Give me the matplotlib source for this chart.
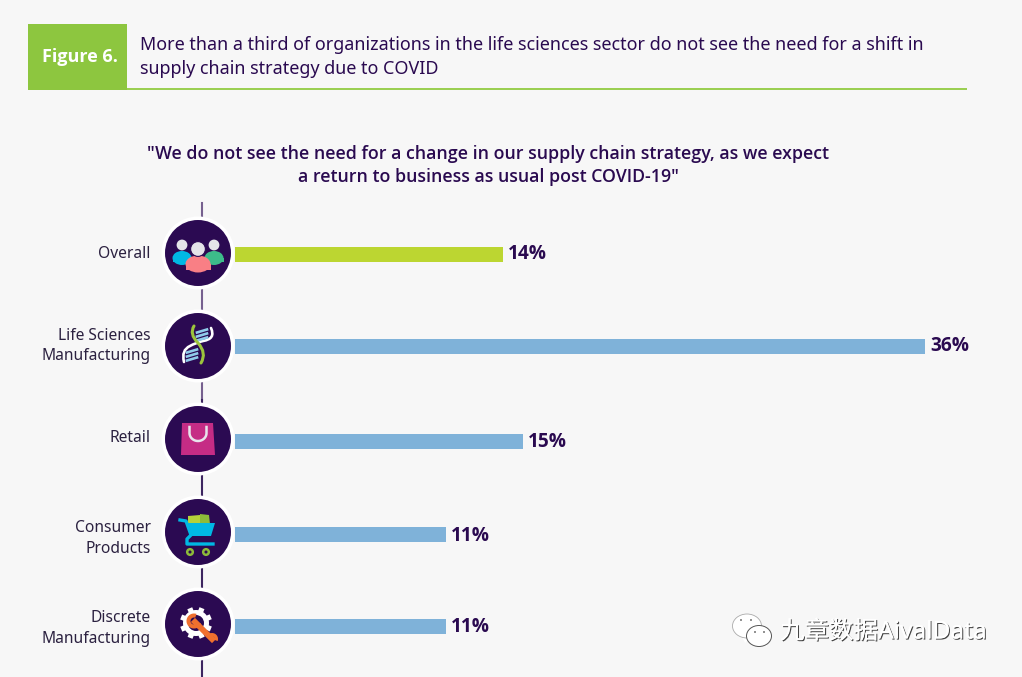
import matplotlib
matplotlib.use("Agg")
import matplotlib.pyplot as plt
import matplotlib.patheffects as pe
from matplotlib.path import Path
from matplotlib.patches import Rectangle, Circle, Ellipse, Polygon, Wedge, PathPatch
import numpy as np

plt.rcParams['font.family'] = ['Noto Sans', 'Noto Sans CJK SC', 'DejaVu Sans']

categories = ["Overall", "Life Sciences\nManufacturing", "Retail",
              "Consumer\nProducts", "Discrete\nManufacturing"]
values = [14, 36, 15, 11, 11]
bar_colors = ["#BCD631", "#7FB2D9", "#7FB2D9", "#7FB2D9", "#7FB2D9"]

figure_tag = "Figure 6."
headline = ("More than a third of organizations in the life sciences sector do not see the need for a shift in\n"
            "supply chain strategy due to COVID")
quote_lines = ['"We do not see the need for a change in our supply chain strategy, as we expect',
               'a return to business as usual post COVID-19"']
watermark = "九章数据AivalData"

BG = "#F7F7F7"
INK = "#2A0A50"
GREEN = "#8DC63F"
DISC = "#2B0A52"
W, H = 1022, 677
PX = 72 / 100  # points per pixel at dpi 100

row_y = [253, 346, 439, 532, 624]
name_y = [254, 346, 438, 538.5, 628.5]
value_y = [254, 346, 442, 536, 627]
bar_y = [254, 346, 441, 534, 626]
quote_y = [154, 177]
bar_left = 235
px_per_unit = 19.17

fig = plt.figure(figsize=(W / 100, H / 100), dpi=100, facecolor=BG)

# page furniture and icons are laid out in pixels
ax = fig.add_axes([0, 0, 1, 1], zorder=1)
ax.set_xlim(0, W)
ax.set_ylim(H, 0)
ax.axis("off")

# bars sit on their own axes, x in percent
bx = fig.add_axes([bar_left / W, 0, (W - bar_left) / W, 1], zorder=3)
bx.set_xlim(0, (W - bar_left) / px_per_unit)
bx.set_ylim(H, 0)
bx.axis("off")
bx.barh(bar_y, values, height=15, color=bar_colors, linewidth=0)
for v, y in zip(values, value_y):
    bx.annotate(f"{v}%", (v, y), xytext=(5 * PX, 0), textcoords="offset points",
                va="center", ha="left", fontsize=19 * PX, family="Open Sans",
                fontweight="bold", color=INK)

# header band
ax.add_patch(Rectangle((28, 24), 99, 66, color=GREEN, lw=0))
ax.add_patch(Rectangle((127, 87.5), 840, 2.5, color="#9BCF53", lw=0))
ax.text(79.5, 57, figure_tag, ha="center", va="center", color="white",
        fontsize=18 * PX, family="Open Sans", fontweight="bold")
ax.text(140, 57, headline, ha="left", va="center", color=INK, fontsize=18 * PX, linespacing=1.36)
for line, y in zip(quote_lines, quote_y):
    ax.text(488, y, line, ha="center", va="center", color=INK, fontsize=17.8 * PX,
            family="Open Sans", fontweight="semibold")

# spine behind the icon discs
ax.plot([202, 202], [203, 400], color="#76608F", lw=1.5, zorder=1)
ax.plot([202, 202], [400, 677], color="#3D2560", lw=1.5, zorder=1)

for name, y in zip(categories, name_y):
    ax.text(150.5, y, name, ha="right", va="center", color="#2B2140", fontsize=15.6 * PX, linespacing=1.34)

for y in row_y:
    ax.add_patch(Circle((198, y), 36.5, color="white", lw=0, zorder=2))
    ax.add_patch(Circle((198, y), 33, color=DISC, lw=0, zorder=3))


def curve(points, color, lw, z):
    # smooth line through a few control points
    pts = np.array(points, dtype=float)
    codes = [Path.MOVETO] + [Path.CURVE3] * (len(pts) - 1)
    ax.add_patch(PathPatch(Path(pts, codes), fc="none", ec=color, lw=lw, zorder=z, capstyle="round"))


def icon_people(cx, cy):
    # two people at the back, one in front
    for dx, col in [(-16, "#00B8E4"), (16, "#3DBB8A")]:
        ax.add_patch(Ellipse((cx + dx, cy + 5), 19, 14, color=col, lw=0, zorder=4))
        ax.add_patch(Rectangle((cx + dx - 9.5, cy + 5), 19, 4, color=col, lw=0, zorder=4))
        ax.add_patch(Circle((cx + dx, cy - 8), 5.4, color="#E4E4E8", lw=0, zorder=5))
    ax.add_patch(Ellipse((cx, cy + 11), 25, 17, color="#F97F85", lw=0, zorder=6))
    ax.add_patch(Rectangle((cx - 12.5, cy + 11), 25, 6, color="#F97F85", lw=0, zorder=6))
    ax.add_patch(Circle((cx, cy - 4), 7.4, color="#E4E4E8", ec=DISC, lw=0.8, zorder=7))


def icon_dna(cx, cy):
    curve([(cx + 13, cy - 18), (cx + 18, cy - 7), (cx + 5, cy - 5), (cx - 3, cy - 3), (cx - 8, cy),
           (cx - 17, cy + 4), (cx - 14, cy + 16)], "white", 1.9, 5)
    curve([(cx - 4, cy - 20), (cx - 9, cy - 12), (cx, cy - 3), (cx + 9, cy + 7), (cx + 3, cy + 17)],
          "#9CC43C", 2.2, 6)
    for dx, dy in [(4, -15), (4, -11), (4, -7), (-6, 5), (-6, 9), (-6, 13)]:
        ax.plot([cx + dx - 5, cx + dx + 5], [cy + dy + 1.5, cy + dy - 1.5],
                color="#8FCBEA", lw=1.9, zorder=5)


def icon_bag(cx, cy):
    ax.add_patch(Polygon([(cx - 16, cy - 16), (cx + 15, cy - 16), (cx + 17, cy + 16), (cx - 17, cy + 16)],
                         closed=True, color="#C52C85", lw=0, zorder=5))
    t = np.linspace(0, np.pi, 30)
    xs = np.r_[cx - 8.5, cx - 8.5 * np.cos(t), cx + 8.5]
    ys = np.r_[cy - 12, cy - 6 + 8 * np.sin(t), cy - 12]
    ax.plot(xs, ys, color="#E8E4EC", lw=1.8, zorder=6)


def icon_cart(cx, cy):
    ax.add_patch(Polygon([(cx - 10, cy - 16), (cx + 2, cy - 17), (cx + 2, cy - 8), (cx - 10, cy - 8)],
                         closed=True, color="#B6D13A", lw=0, zorder=4))
    ax.add_patch(Polygon([(cx + 2, cy - 18), (cx + 11, cy - 17), (cx + 12, cy - 8), (cx + 2, cy - 8)],
                         closed=True, color="#8DBB3A", lw=0, zorder=4))
    ax.add_patch(Polygon([(cx - 10, cy - 9), (cx + 17, cy - 9), (cx + 13, cy + 4), (cx - 6, cy + 4)],
                         closed=True, color="#00B8E4", lw=0, zorder=5))
    ax.plot([cx - 18, cx - 12, cx - 7, cx - 11, cx - 11, cx + 15],
            [cy - 12, cy - 11, cy + 3, cy + 7, cy + 12, cy + 12],
            color="#00B8E4", lw=2.4, zorder=5)
    for dx in (-8, 8):
        ax.add_patch(Circle((cx + dx, cy + 20), 2.8, fc="none", ec="#8DBB3A", lw=1.8, zorder=6))


def icon_tools(cx, cy):
    gx, gy = cx - 2, cy
    for a in np.arange(0, 360, 45):
        r = np.radians(a + 22)
        ax.plot([gx + 11 * np.cos(r), gx + 16 * np.cos(r)],
                [gy + 11 * np.sin(r), gy + 16 * np.sin(r)],
                color="white", lw=3.8, zorder=4, solid_capstyle="butt")
    ax.add_patch(Circle((gx, gy), 13, color="white", lw=0, zorder=4))
    ax.add_patch(Circle((gx, gy), 8, color=DISC, lw=0, zorder=5))
    ax.plot([gx - 1, gx + 16], [gy - 1, gy + 16], color="#F0702E", lw=4.2, zorder=6)
    ax.add_patch(Wedge((gx - 2, gy - 2), 7.5, 20, 290, width=4, color="#F0702E", lw=0, zorder=6))
    ax.add_patch(Wedge((gx + 16, gy + 16), 6, 200, 20, width=3.4, color="#F0702E", lw=0, zorder=6))


icon_people(198, row_y[0])
icon_dna(198, row_y[1])
icon_bag(198, row_y[2])
icon_cart(198, row_y[3])
icon_tools(198, row_y[4] - 1)

# chat badge and account name in the corner
ax.add_patch(Polygon([(741, 634), (745, 643), (751, 637)], fc="white", lw=0, zorder=8))
ax.add_patch(Ellipse((747, 626), 29, 24, fc="white", ec="#AAAAAA", lw=0.6, zorder=8))
ax.add_patch(Polygon([(762, 644), (767, 647), (766, 642)], fc="white", lw=0, zorder=9))
ax.add_patch(Ellipse((759, 636), 25, 21, fc="white", ec="#555555", lw=0.7, zorder=9))
for x, y, z in [(741, 620, 9), (751, 620, 9), (755, 632, 10), (764, 632, 10)]:
    ax.add_patch(Circle((x, y), 1, fc="#777777", lw=0, zorder=z))
ax.text(780, 632, watermark, ha="left", va="center", color="white", fontsize=24.5 * PX, zorder=9,
        path_effects=[pe.withSimplePatchShadow(offset=(0.8, -0.8), shadow_rgbFace="#333333", alpha=0.9),
                      pe.Normal()])

fig.savefig("out.png", dpi=100, facecolor=BG)
